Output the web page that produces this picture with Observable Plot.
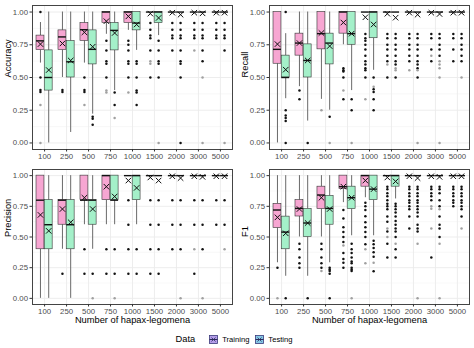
<!DOCTYPE html>
<html><head><meta charset="utf-8">
<script src="https://cdn.jsdelivr.net/npm/d3@7"></script>
<script src="https://cdn.jsdelivr.net/npm/@observablehq/plot@0.6"></script>
<style>
body{margin:0;background:#fff;font-family:"Liberation Sans",Arial,sans-serif;}
#wrap{position:relative;width:474px;height:348px;overflow:hidden;}
.panel{position:absolute;}
#legend{position:absolute;top:332px;left:0;width:474px;height:14px;display:flex;align-items:center;justify-content:center;color:#000;}
#legend .title{font-size:9.3px;margin-right:14px;}
#legend .lab{font-size:7.6px;margin-left:4px;margin-right:6px;}
#legend svg{display:block;}
</style></head><body>
<div id="wrap">
  <div class="panel" id="p0" style="left:0;top:0"></div>
  <div class="panel" id="p1" style="left:237px;top:0"></div>
  <div class="panel" id="p2" style="left:0;top:163px"></div>
  <div class="panel" id="p3" style="left:237px;top:163px"></div>
  <div id="legend"></div>
</div>
<script>
const categories = ["100","250","500","750","1000","1500","2000","3000","5000"];
const groups = ["Training","Testing"];
const groupColors = ["#f7a6d2","#a4f0c9"];
const metrics = ["Accuracy","Recall","Precision","F1"];
const xTitle = "Number of hapax-legomena";
const legendTitle = "Data";
const yTicks = [0, 0.25, 0.5, 0.75, 1];
const yMinor = [0.125, 0.375, 0.625, 0.875];

// box rows per category: [lower whisker, q1, median, q3, upper whisker, mean]
const accuracyTraining = [
  [0.61,0.71,0.78,0.82,0.92,0.755],[0.50,0.71,0.81,0.86,1,0.76],[0.61,0.78,0.865,0.915,1,0.845],
  [0.83,0.916,1,1,1,0.93],[0.86,0.916,1,1,1,0.967],[1,1,1,1,1,0.988],[1,1,1,1,1,0.995],[1,1,1,1,1,0.995],[1,1,1,1,1,0.995]];
const accuracyTesting = [
  [0,0.40,0.50,0.707,1,0.557],[0.08,0.50,0.62,0.778,1,0.63],[0.22,0.60,0.715,0.86,1,0.735],
  [0.40,0.707,0.86,0.916,1,0.84],[0.707,0.86,0.916,1,1,0.905],[0.82,0.916,1,1,1,0.955],[1,1,1,1,1,0.98],[1,1,1,1,1,0.99],[1,1,1,1,1,0.995]];
const accuracyTrainingOut = [[1,0.5,0.405,0.39],[0.405,0.39],[0.5,0.405,0.39],[0.78,0.707,0.625,0.605,0.5],
  [0.78,0.75,0.707,0.625,0.605,0.5],[0.916,0.865,0.82,0.80,0.707,0.5],[0.916,0.865,0.82,0.80,0.707],[0.916,0.865,0.82,0.80],[0.916,0.865,0.82,0.80]];
const accuracyTrainingFaint = [[0.29,0],[],[0.29],[0.40,0.385],[0.385],[0.625,0.605],[],[0.707],[]];
const accuracyTestingOut = [[],[],[0.20,0.185,0.14],[0.385,0.29],[0.625,0.605,0.5,0.40,0.385,0.29],
  [0.78,0.707,0.625,0.605,0.5],[0.916,0.865,0.82,0.80,0.707,0.625,0.605,0.5,0],[0.916,0.865,0.82,0.80,0.707,0.625],[0.916,0.865,0.82,0.80,0.707]];
const accuracyTestingFaint = [[],[],[],[0.19],[],[0],[],[0.5,0],[0]];

const recallTraining = [
  [0,0.605,0.715,1,1,0.755],[0.43,0.667,0.763,0.835,1,0.763],[0.333,0.715,0.835,1,1,0.84],
  [0.75,0.835,1,1,1,0.92],[1,1,1,1,1,0.96],[1,1,1,1,1,0.987],[1,1,1,1,1,0.995],[1,1,1,1,1,0.995],[1,1,1,1,1,0.995]];
const recallTesting = [
  [0.338,0.50,0.50,0.667,0.835,0.56],[0.167,0.50,0.63,0.753,1,0.63],[0.25,0.60,0.763,0.835,1,0.74],
  [0.40,0.75,0.835,1,1,0.835],[0.555,0.80,1,1,1,0.905],[1,1,1,1,1,0.957],[1,1,1,1,1,0.98],[1,1,1,1,1,0.985],[1,1,1,1,1,0.995]];
const recallTrainingOut = [[],[0.40,0.333],[],[0.57,0.556,0.545,0.5,0.333],
  [0.833,0.80,0.78,0.75,0.714,0.667,0.625,0.60,0.57,0.556,0.5],[0.833,0.80,0.75,0.714,0.667,0.625,0.5],
  [0.833,0.80,0.75,0.714,0.667,0.625],[0.833,0.80,0.714,0.625],[0.833,0.80,0.714,0.625]];
const recallTrainingFaint = [[],[],[0.25],[0.40],[0.333],[0.60],[0.556],[0.667],[]];
const recallTestingOut = [[1,0.25,0.21,0.19,0.167,0],[0],[0.20],[0.333,0.25],[0.5,0.41,0.39,0.333,0.25],
  [0.833,0.80,0.75,0.714,0.667,0.625,0.60,0.5],[0.833,0.80,0.75,0.714,0.667,0.625,0.60,0.57,0.5],
  [0.833,0.80,0.75,0.714,0.667],[0.833,0.80,0.75,0.714,0.667,0.625]];
const recallTestingFaint = [[],[],[0],[0],[0.43],[0.57,0.556],[0.556,0],[0.625,0.60,0.57,0.5,0],[0.5]];

const precisionTraining = [
  [0,0.4,0.8,1,1,0.68],[0.4,0.6,0.8,0.8,1,0.728],[0.6,0.8,0.8,1,1,0.82],[0.6,0.8,1,1,1,0.91],
  [1,1,1,1,1,0.96],[1,1,1,1,1,0.985],[1,1,1,1,1,0.995],[1,1,1,1,1,0.995],[1,1,1,1,1,0.995]];
const precisionTesting = [
  [0,0.4,0.6,0.8,1,0.55],[0,0.4,0.6,0.8,1,0.62],[0.4,0.6,0.8,0.8,1,0.728],[0.6,0.8,0.8,1,1,0.83],
  [0.6,0.8,1,1,1,0.90],[1,1,1,1,1,0.96],[1,1,1,1,1,0.98],[1,1,1,1,1,0.99],[1,1,1,1,1,0.995]];
const precisionTrainingOut = [[],[0.2],[0.4,0.2],[0.4,0.2],[0.8,0.6,0.4,0.2],[0.8,0.6,0.4,0.2],[0.8,0.6,0.4],[0.8,0.6,0.2],[0.8,0.6]];
const precisionTrainingFaint = [[],[],[],[],[],[],[],[0.4],[]];
const precisionTestingOut = [[],[],[0.2],[0.4,0.2],[0.4,0.2],[0.8,0.6,0.4,0.2],[0.8,0.6,0.4],[0.8,0.6,0.4],[0.8,0.6]];
const precisionTestingFaint = [[],[],[0],[0],[],[],[0],[0],[0.4]];

const f1Training = [
  [0.29,0.573,0.72,0.77,1,0.66],[0.50,0.667,0.733,0.80,1,0.728],[0.50,0.728,0.842,0.91,1,0.82],
  [0.78,0.89,0.91,1,1,0.91],[0.82,0.91,1,1,1,0.96],[1,1,1,1,1,0.985],[1,1,1,1,1,0.995],[1,1,1,1,1,0.995],[1,1,1,1,1,0.995]];
const f1Testing = [
  [0.18,0.40,0.54,0.666,1,0.53],[0.18,0.50,0.614,0.728,1,0.614],[0.29,0.60,0.733,0.834,1,0.728],
  [0.51,0.728,0.82,0.91,1,0.82],[0.51,0.80,0.89,1,1,0.89],[0.81,0.91,1,1,1,0.953],[1,1,1,1,1,0.98],[1,1,1,1,1,0.99],[1,1,1,1,1,0.995]];
const f1TrainingOut = [[0.25],[0.444,0.40,0.333,0.286,0.25],[0.444,0.40,0.333,0.286,0.25],
  [0.72,0.65,0.58,0.54,0.5,0.46,0.37,0.32,0.29,0.25],[0.78,0.75,0.72,0.67,0.62,0.58,0.54,0.5,0.44],
  [0.91,0.89,0.857,0.833,0.80,0.77,0.75,0.727,0.667,0.625,0.545,0.444,0.333],
  [0.91,0.89,0.857,0.833,0.80,0.78,0.75,0.727,0.667,0.57],[0.91,0.89,0.857,0.833,0.80,0.333],
  [0.91,0.89,0.857,0.833,0.80,0.78,0.75]];
const f1TrainingFaint = [[0],[],[0.222],[0.43],[0.40,0.286],[0.57,0.5],[],[0.75,0.73,0.57],[]];
const f1TestingOut = [[0],[0],[0.25,0.235,0.222,0.20,0],[0.444,0.40,0.37,0.333,0.30,0.286,0.25,0.235,0.222],
  [0.47,0.44,0.41,0.375,0.34,0.22],[0.77,0.75,0.727,0.70,0.667,0.63,0.60,0.57,0.545,0.50,0.40,0.333],
  [0.91,0.89,0.857,0.833,0.80,0.78,0.75,0.727,0.70,0.667,0.60,0.57,0.545],
  [0.91,0.89,0.857,0.80,0.75,0.667,0.60,0.57,0.50],[0.91,0.89,0.857,0.833,0.80,0.78,0.75,0.727,0.667]];
const f1TestingFaint = [[],[],[],[0],[0.29],[0.444],[0.444,0],[0.727,0.444,0],[0.57]];

const FONT = '"Liberation Sans", Arial, sans-serif';
const offsets = [-0.1875, 0.1875];
const halfWidth = 0.18;

function makePanel(metric, stats, outs, faint, bottom) {
  const boxes = [];
  groups.forEach((g, gi) => stats[gi].forEach((s, i) => boxes.push({
    group: g, x: i + offsets[gi], lo: s[0], q1: s[1], med: s[2], q3: s[3], hi: s[4], mean: s[5]})));
  const pts = [];
  groups.forEach((g, gi) => {
    outs[gi].forEach((arr, i) => arr.forEach(v => pts.push({x: i + offsets[gi], y: v, faint: false})));
    faint[gi].forEach((arr, i) => arr.forEach(v => pts.push({x: i + offsets[gi], y: v, faint: true})));
  });
  const marks = [
    Plot.ruleY(yMinor, {stroke: "#f3f3f3", strokeWidth: 0.6}),
    Plot.ruleY(yTicks, {stroke: "#ebebeb", strokeWidth: 0.9}),
    Plot.ruleX(d3.range(categories.length), {stroke: "#ebebeb", strokeWidth: 0.9}),
    Plot.ruleX(boxes, {x: "x", y1: "lo", y2: "q1", stroke: "#6a6a6a", strokeWidth: 1}),
    Plot.ruleX(boxes, {x: "x", y1: "q3", y2: "hi", stroke: "#6a6a6a", strokeWidth: 1}),
    Plot.rect(boxes, {x1: d => d.x - halfWidth, x2: d => d.x + halfWidth, y1: "q1", y2: "q3", fill: "group", stroke: "#333", strokeWidth: 0.6}),
    Plot.ruleY(boxes, {y: "med", x1: d => d.x - halfWidth, x2: d => d.x + halfWidth, stroke: "#111", strokeWidth: 1.4}),
    Plot.dot(pts, {x: "x", y: "y", r: 1.25, fill: d => d.faint ? "#a0a0a0" : "#111", stroke: null}),
    Plot.dot(boxes, {x: "x", y: "mean", symbol: "times", r: 2.6, stroke: "#111", strokeWidth: 1}),
    Plot.frame({stroke: "#444", strokeWidth: 1}),
    Plot.axisY(yTicks, {tickFormat: d3.format(".2f"), tickSize: 2.5, tickPadding: 2, fontSize: 7.8, color: "#4d4d4d", stroke: "#333", label: null}),
    Plot.axisX(d3.range(categories.length), {tickFormat: i => categories[i], tickSize: 2.5, tickPadding: 1, fontSize: 7.8, color: "#4d4d4d", stroke: "#333", label: null}),
    Plot.text([metric], {frameAnchor: "left", rotate: -90, dx: -24, fontSize: 9.3, fill: "#000"})
  ];
  if (bottom) marks.push(Plot.text([xTitle], {frameAnchor: "bottom", dy: 18, fontSize: 9.3, fill: "#000"}));
  return Plot.plot({
    width: 237, height: bottom ? 168 : 162,
    marginLeft: 32, marginRight: 5,
    marginTop: bottom ? 6 : 5, marginBottom: bottom ? 27 : 13,
    style: {fontFamily: FONT, background: "#fff", overflow: "visible"},
    x: {type: "linear", domain: [-0.55, categories.length - 0.45], label: null},
    y: {domain: [-0.05, 1.05], label: null},
    color: {domain: groups, range: groupColors},
    marks
  });
}

document.getElementById("p0").append(makePanel(metrics[0], [accuracyTraining, accuracyTesting], [accuracyTrainingOut, accuracyTestingOut], [accuracyTrainingFaint, accuracyTestingFaint], false));
document.getElementById("p1").append(makePanel(metrics[1], [recallTraining, recallTesting], [recallTrainingOut, recallTestingOut], [recallTrainingFaint, recallTestingFaint], false));
document.getElementById("p2").append(makePanel(metrics[2], [precisionTraining, precisionTesting], [precisionTrainingOut, precisionTestingOut], [precisionTrainingFaint, precisionTestingFaint], true));
document.getElementById("p3").append(makePanel(metrics[3], [f1Training, f1Testing], [f1TrainingOut, f1TestingOut], [f1TrainingFaint, f1TestingFaint], true));

// legend
const legendKeyColors = ["#b49de9", "#86c8e6"];
const leg = document.getElementById("legend");
const t = document.createElement("span"); t.className = "title"; t.textContent = legendTitle; leg.append(t);
groups.forEach((g, gi) => {
  const svg = d3.create("svg").attr("width", 9).attr("height", 9);
  svg.append("rect").attr("x", 0.5).attr("y", 0.5).attr("width", 8).attr("height", 8).attr("fill", legendKeyColors[gi]).attr("stroke", "#3a3a7a").attr("stroke-width", 0.8);
  svg.append("line").attr("x1", 0.5).attr("x2", 8.5).attr("y1", 4.5).attr("y2", 4.5).attr("stroke", "#2a2a5a").attr("stroke-width", 1);
  svg.append("path").attr("d", "M2.5,2.5L6.5,6.5M6.5,2.5L2.5,6.5").attr("stroke", "#2a2a5a").attr("stroke-width", 0.8);
  leg.append(svg.node());
  const s = document.createElement("span"); s.className = "lab"; s.textContent = g; leg.append(s);
});
</script>
</body></html>
